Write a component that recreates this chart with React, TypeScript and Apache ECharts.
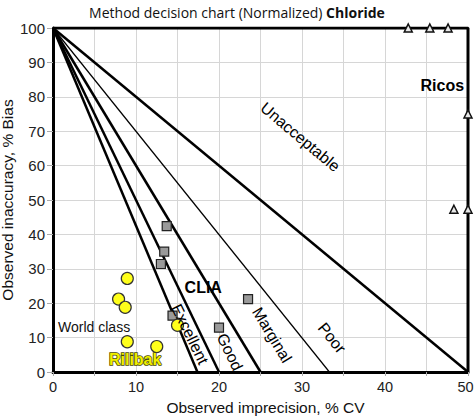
import React, { useEffect, useRef } from "react";
import * as echarts from "echarts";

// x-intercepts of the decision lines (all start at CV 0, Bias 100)
const lineIntercepts = [17.4, 20, 25, 33.3, 50];
const lineWidths = [2.5, 2.5, 2.5, 1.2, 2.5];

// CLIA (grey squares): [CV, Bias]
const cliaPoints = [
  [13.7, 42.4],
  [13.4, 35.0],
  [13.0, 31.4],
  [14.4, 16.4],
  [20.0, 12.9],
  [23.5, 21.2],
];

// Rilibak (yellow circles)
const rilibakPoints = [
  [8.95, 27.2],
  [7.9, 21.2],
  [8.7, 18.8],
  [15.0, 13.6],
  [8.95, 8.8],
  [12.5, 7.4],
];

// Ricos (triangles)
const ricosPoints = [
  [42.8, 100],
  [45.4, 100],
  [47.6, 100],
  [50, 75],
  [48.3, 47.3],
  [50, 47.3],
];

// Frame along the top and right edges
const framePoints = [
  [0, 100],
  [50, 100],
  [50, 0],
];

// Zone labels
const zoneLabels = [
  { x: 29.8, y: 68.3, text: "Unacceptable", rotate: -40 },
  { x: 33.6, y: 9.9, text: "Poor", rotate: -51 },
  { x: 26.4, y: 10.8, text: "Marginal", rotate: -59 },
  { x: 21.3, y: 5.8, text: "Good", rotate: -64 },
  { x: 16.5, y: 11.0, text: "Excellent", rotate: -64 },
];

const groupLabels = [
  { x: 18.1, y: 24.7, text: "CLIA", kind: "bold" },
  { x: 4.95, y: 13.0, text: "World class", kind: "plain" },
  { x: 9.9, y: 3.5, text: "Rilibak", kind: "rilibak" },
  { x: 46.9, y: 83.4, text: "Ricos", kind: "bold" },
];

const FONT = "Liberation Sans, Arial, sans-serif";

export default function App() {
  const ref = useRef<HTMLDivElement>(null);

  useEffect(() => {
    if (!ref.current) return;
    const chart = echarts.init(ref.current, null, { renderer: "svg" });

    const lineSeries = lineIntercepts.map((xi, i) => ({
      type: "line",
      data: [
        [0, 100],
        [xi, 0],
      ],
      symbol: "none",
      lineStyle: { color: "#000", width: lineWidths[i] },
      z: 2,
      silent: true,
    }));

    const zoneData = zoneLabels.map((l) => ({
      value: [l.x, l.y],
      label: {
        show: true,
        formatter: l.text,
        rotate: l.rotate,
        position: "inside",
        fontSize: 16,
        fontFamily: FONT,
        color: "#000",
      },
    }));

    const groupData = groupLabels.map((l) => {
      let lab: any = {
        show: true,
        formatter: l.text,
        position: "inside",
        fontFamily: FONT,
      };
      if (l.kind === "bold") {
        lab = { ...lab, fontSize: 16, fontWeight: "bold", color: "#000" };
      } else if (l.kind === "plain") {
        lab = { ...lab, fontSize: 14, color: "#111" };
      } else {
        lab = {
          ...lab,
          fontSize: 16,
          fontWeight: "bold",
          color: "#f0f000",
          textBorderColor: "#4a4a00",
          textBorderWidth: 1.5,
        };
      }
      return { value: [l.x, l.y], label: lab };
    });

    chart.setOption({
      animation: false,
      backgroundColor: "#fff",
      title: {
        text: "Method decision chart (Normalized) {b|Chloride}",
        left: "center",
        top: 0,
        textStyle: {
          fontFamily: "Open Sans, sans-serif",
          fontSize: 14,
          fontWeight: "normal",
          color: "#111",
          rich: {
            b: {
              fontFamily: "Open Sans, sans-serif",
              fontSize: 14,
              fontWeight: "bold",
              color: "#111",
            },
          },
        },
      },
      grid: { left: 53, right: 6, top: 28, bottom: 46, outerBoundsMode: "none", containLabel: false },
      xAxis: {
        type: "value",
        min: 0,
        max: 50,
        interval: 5,
        name: "Observed imprecision, % CV",
        nameLocation: "middle",
        nameGap: 27,
        nameMoveOverlap: false,
        nameTextStyle: { fontFamily: FONT, fontSize: 15.5, color: "#111", padding: [0, 0, 0, 10] },
        axisLine: { show: true, lineStyle: { color: "#000", width: 3 } },
        axisTick: { show: true, length: 4, lineStyle: { color: "#aaa" } },
        axisLabel: {
          fontFamily: FONT,
          fontSize: 14.5,
          color: "#222",
          margin: 7,
          formatter: (v: number) =>
            v === 50 ? "{r|50}" : v % 10 === 0 ? String(v) : "",
          rich: {
            r: { fontFamily: FONT, fontSize: 14.5, color: "#222", padding: [0, 5, 0, 0] },
          },
        },
        splitLine: { show: true, lineStyle: { color: "#d6d6d6", width: 1 } },
      },
      yAxis: {
        type: "value",
        min: 0,
        max: 100,
        interval: 10,
        name: "Observed inaccuracy, % Bias",
        nameLocation: "middle",
        nameGap: 38,
        nameMoveOverlap: false,
        nameTextStyle: { fontFamily: FONT, fontSize: 15.5, color: "#111" },
        axisLine: { show: true, lineStyle: { color: "#000", width: 3 } },
        axisTick: { show: true, length: 6, lineStyle: { color: "#aaa" } },
        axisLabel: { fontFamily: FONT, fontSize: 15, color: "#222", margin: 8 },
        splitLine: { show: true, lineStyle: { color: "#d6d6d6", width: 1 } },
      },
      series: [
        ...lineSeries,
        {
          type: "line",
          data: framePoints,
          symbol: "none",
          lineStyle: { color: "#000", width: 3 },
          z: 2,
          silent: true,
        },
        {
          type: "scatter",
          data: cliaPoints,
          symbol: "rect",
          symbolSize: 9,
          itemStyle: { color: "#9a9a9a", borderColor: "#222", borderWidth: 1.2, opacity: 1 },
          z: 4,
        },
        {
          type: "scatter",
          data: rilibakPoints,
          symbol: "circle",
          symbolSize: 12,
          itemStyle: { color: "#ffff1a", borderColor: "#333", borderWidth: 1.2, opacity: 1 },
          z: 4,
        },
        {
          type: "scatter",
          data: ricosPoints,
          symbol: "triangle",
          symbolSize: 8,
          itemStyle: { color: "#e8e8e8", borderColor: "#111", borderWidth: 1.5, opacity: 1 },
          z: 4,
        },
        {
          type: "scatter",
          data: zoneData,
          symbolSize: 0,
          itemStyle: { opacity: 1 },
          z: 5,
          silent: true,
        },
        {
          type: "scatter",
          data: groupData,
          symbolSize: 0,
          itemStyle: { opacity: 1 },
          z: 5,
          silent: true,
        },
      ],
    });

    return () => chart.dispose();
  }, []);

  return (
    <div
      ref={ref}
      style={{ position: "fixed", left: 0, top: 0, width: 474, height: 418 }}
    />
  );
}
